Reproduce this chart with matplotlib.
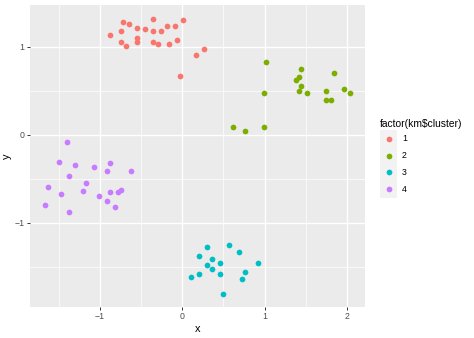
import numpy as np
import matplotlib.pyplot as plt
from matplotlib.patches import Rectangle

plt.rcParams["font.family"] = ["Liberation Sans", "DejaVu Sans"]

# k-means resultado: coordenadas por cluster
x1 = [-0.717, -0.648, -0.878, -0.748, -0.554, -0.453, -0.356, -0.356, -0.259, -0.190,
      -0.092, 0.005, -0.748, -0.684, -0.554, -0.554, -0.356, -0.292, -0.162, -0.061,
      0.166, 0.267, -0.028]
y1 = [1.281, 1.258, 1.133, 1.178, 1.216, 1.198, 1.318, 1.178, 1.178, 1.235,
      1.235, 1.300, 1.050, 1.008, 1.095, 1.053, 1.053, 1.030, 1.030, 1.073,
      0.906, 0.970, 0.664]

x2 = [1.021, 1.446, 1.414, 1.382, 1.446, 1.414, 1.515, 1.840, 1.742, 1.742,
      1.807, 1.968, 2.038, 0.989, 0.758, 0.989, 0.622]
y2 = [0.823, 0.743, 0.659, 0.618, 0.557, 0.493, 0.474, 0.701, 0.493, 0.391,
      0.391, 0.516, 0.474, 0.477, 0.042, 0.084, 0.082]

x3 = [0.296, 0.564, 0.693, 0.199, 0.365, 0.296, 0.462, 0.365, 0.920, 0.758,
      0.725, 0.462, 0.199, 0.106, 0.498]
y3 = [-1.273, -1.253, -1.336, -1.375, -1.416, -1.477, -1.458, -1.523, -1.458, -1.560,
      -1.643, -1.580, -1.580, -1.621, -1.807]

x4 = [-1.405, -1.502, -1.307, -1.077, -0.878, -0.915, -0.620, -1.373, -1.174, -1.632,
      -1.210, -1.470, -0.882, -0.785, -0.748, -1.012, -0.915, -0.814, -1.668, -1.373]
y4 = [-0.080, -0.307, -0.344, -0.364, -0.325, -0.409, -0.409, -0.469, -0.552, -0.591,
      -0.636, -0.674, -0.655, -0.655, -0.632, -0.697, -0.757, -0.822, -0.799, -0.878]

clusters = ["1", "2", "3", "4"]
cores = ["#F8766D", "#7CAE00", "#00BFC4", "#C77CFF"]
xs = [x1, x2, x3, x4]
ys = [y1, y2, y3, y4]

W, H = 474, 338
fig = plt.figure(figsize=(W / 100, H / 100), dpi=100)

# painel
esq, dir_, topo, base = 30, 365, 5, 306.7
ax = fig.add_axes([esq / W, 1 - base / H, (dir_ - esq) / W, (base - topo) / H])
ax.set_facecolor("#EBEBEB")

for xv, yv, cor in zip(xs, ys, cores):
    ax.scatter(xv, yv, s=17, color=cor, linewidths=0, zorder=3)

ax.set_xlim(-1.85, 2.22)
ax.set_ylim(-1.955, 1.474)

ax.set_xticks([-1, 0, 1, 2])
ax.set_yticks([-1, 0, 1])
ax.set_xticks([-1.5, -0.5, 0.5, 1.5], minor=True)
ax.set_yticks([-1.5, -0.5, 0.5], minor=True)
ax.grid(True, which="major", color="white", linewidth=1.0)
ax.grid(True, which="minor", color="white", linewidth=0.5)
ax.set_axisbelow(True)

for s in ax.spines.values():
    s.set_visible(False)

ax.tick_params(which="major", length=2.5, width=0.7, color="#333333",
               labelsize=6.3, labelcolor="#4D4D4D", pad=1.5)
ax.tick_params(which="minor", length=0)

ax.set_xlabel("x", fontsize=7.9, labelpad=2)
ax.set_ylabel("y", fontsize=7.9, labelpad=2)

# legenda
fig.text(380 / W, 1 - 124 / H, "factor(km$cluster)", fontsize=7.4,
         va="center", ha="left")
lx, ly0, kh = 380, 130.5, 16.8
leg = fig.add_axes([lx / W, 1 - (ly0 + 4 * kh) / H, 17 / W, 4 * kh / H])
leg.set_xlim(0, 1)
leg.set_ylim(0, 4)
leg.set_facecolor("#F2F2F2")
leg.axis("off")
leg.add_patch(Rectangle((0, 0), 1, 4, color="#F2F2F2", zorder=0))
for i, (lab, cor) in enumerate(zip(clusters, cores)):
    leg.scatter([0.5], [3.5 - i], s=17, color=cor, linewidths=0, zorder=3)
    fig.text(402 / W, 1 - (ly0 + kh * (i + 0.5)) / H, lab, fontsize=6.3,
             va="center", ha="left")

fig.savefig("out.png", dpi=100)
